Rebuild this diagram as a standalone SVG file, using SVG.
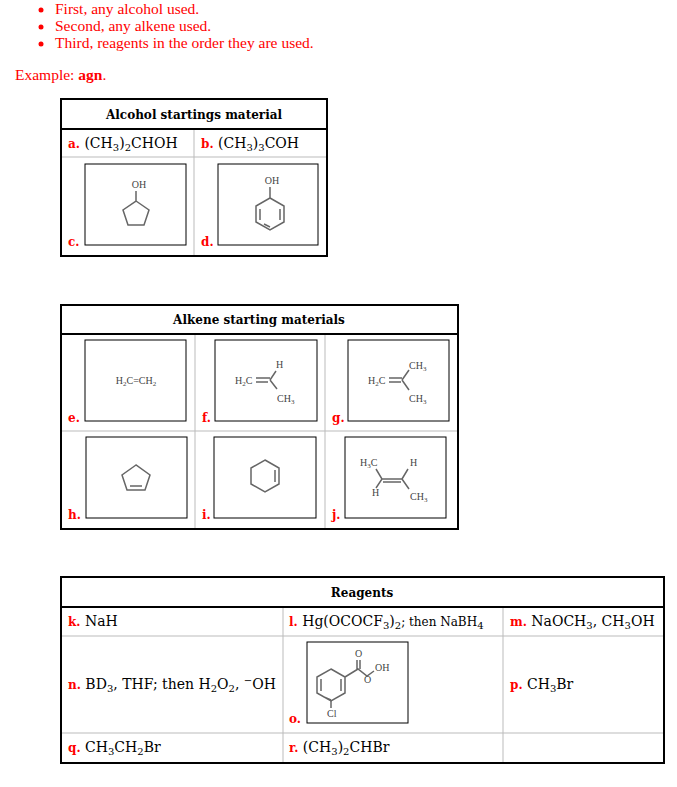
<svg xmlns="http://www.w3.org/2000/svg" width="677" height="787" viewBox="0 0 677 787">
<style>
text{font-family:"DejaVu Serif",serif;font-size:14px;fill:#000}
.r{fill:#f00;font-weight:bold;font-size:12px}
.rt{fill:#f00;font-family:"Liberation Serif",serif;font-size:15.5px}
.h{font-weight:bold;font-size:12px}
.out{fill:none;stroke:#000;stroke-width:2}
.g{stroke:#bbb;stroke-width:1}
.box{fill:#fff;stroke:#000;stroke-width:1}
.m{fill:none;stroke:#666;stroke-width:1.5}
.c{font-family:"Liberation Serif",serif;font-size:10px;fill:#444}
</style>
<rect width="677" height="787" fill="#fff"/>
<g id="intro">
<circle cx="41" cy="10" r="2.5" fill="#f00"/><text class="rt" x="55" y="14">First, any alcohol used.</text>
<circle cx="41" cy="27" r="2.5" fill="#f00"/><text class="rt" x="55" y="31">Second, any alkene used.</text>
<circle cx="41" cy="44" r="2.5" fill="#f00"/><text class="rt" x="55" y="48">Third, reagents in the order they are used.</text>
<text class="rt" x="15" y="80">Example: <tspan font-weight="bold">agn</tspan>.</text>
</g>
<g id="table-alcohol">
<line class="g" x1="194" y1="129" x2="194" y2="256"/>
<line class="g" x1="61" y1="157" x2="327" y2="157"/>
<line x1="61" y1="129" x2="327" y2="129" stroke="#000" stroke-width="2"/>
<rect class="out" x="61" y="99" width="266" height="157"/>
<text class="h" x="194" y="119" text-anchor="middle">Alcohol startings material</text>
<text x="68" y="148"><tspan class="r">a.</tspan> (CH<tspan font-size="10" dy="3">3</tspan><tspan dy="-3">)</tspan><tspan font-size="10" dy="3">2</tspan><tspan dy="-3">CHOH</tspan></text>
<text x="201" y="148"><tspan class="r">b.</tspan> (CH<tspan font-size="10" dy="3">3</tspan><tspan dy="-3">)</tspan><tspan font-size="10" dy="3">3</tspan><tspan dy="-3">COH</tspan></text>
<text class="r" x="68" y="246">c.</text><text class="r" x="201" y="246">d.</text>
<rect class="box" x="85" y="164" width="101" height="81"/>
<rect class="box" x="218" y="164" width="100" height="81"/>
<text class="c" x="139" y="188" text-anchor="middle">OH</text>
<path class="m" d="M136 191V201L123 210L128 225H144L149 210L136 201"/>
<text class="c" x="272" y="184" text-anchor="middle">OH</text>
<path class="m" d="M270 187V198L256 206V222L270 230L284 222V206L270 198M260 209V220M280 209V220M264 224L270 227"/>
</g>
<g id="table-alkene">
<line class="g" x1="195" y1="334" x2="195" y2="529"/>
<line class="g" x1="325" y1="334" x2="325" y2="529"/>
<line class="g" x1="61" y1="431" x2="458" y2="431"/>
<line x1="61" y1="334" x2="458" y2="334" stroke="#000" stroke-width="2"/>
<rect class="out" x="61" y="305" width="397" height="224"/>
<text class="h" x="259" y="324" text-anchor="middle">Alkene starting materials</text>
<text class="r" x="68" y="422">e.</text><text class="r" x="202" y="422">f.</text><text class="r" x="332" y="422">g.</text>
<text class="r" x="68" y="519">h.</text><text class="r" x="202" y="519">i.</text><text class="r" x="332" y="519">j.</text>
<rect class="box" x="85" y="340" width="101" height="81"/>
<rect class="box" x="215" y="340" width="102" height="81"/>
<rect class="box" x="348" y="340" width="101" height="81"/>
<rect class="box" x="86" y="437" width="101" height="81"/>
<rect class="box" x="214" y="437" width="102" height="81"/>
<rect class="box" x="345" y="437" width="101" height="81"/>
<text class="c" x="136" y="384" text-anchor="middle">H<tspan font-size="7" dy="2">2</tspan><tspan dy="-2">C=CH</tspan><tspan font-size="7" dy="2">2</tspan></text>
<text class="c" x="235" y="384">H<tspan font-size="7" dy="2">2</tspan><tspan dy="-2">C</tspan></text>
<path class="m" d="M256 378H270M256 382H268M270 380L276 371M270 380L277 389" stroke-width="1"/>
<text class="c" x="276" y="368">H</text><text class="c" x="277" y="402">CH<tspan font-size="7" dy="2">3</tspan></text>
<text class="c" x="368" y="384">H<tspan font-size="7" dy="2">2</tspan><tspan dy="-2">C</tspan></text>
<path class="m" d="M389 378H402M389 382H401M402 380L409 370M402 380L409 390" stroke-width="1"/>
<text class="c" x="409" y="369">CH<tspan font-size="7" dy="2">3</tspan></text><text class="c" x="409" y="402">CH<tspan font-size="7" dy="2">3</tspan></text>
<path class="m" d="M136 465L122 475L127 490H145L150 475ZM130 486H142"/>
<path class="m" d="M265 460L279 468V484L265 492L251 484V468ZM275 470V482"/>
<text class="c" x="360" y="466">H<tspan font-size="7" dy="2">3</tspan><tspan dy="-2">C</tspan></text>
<text class="c" x="410" y="466">H</text>
<text class="c" x="372" y="496">H</text>
<text class="c" x="410" y="500">CH<tspan font-size="7" dy="2">3</tspan></text>
<path class="m" d="M376 469L382 479L376 488M382 479H402M383 482H401M402 479L408 469M402 479L409 489" stroke-width="1"/>
</g>
<g id="table-reagents">
<line class="g" x1="283" y1="607" x2="283" y2="763"/>
<line class="g" x1="503" y1="607" x2="503" y2="763"/>
<line class="g" x1="61" y1="636" x2="664" y2="636"/>
<line class="g" x1="61" y1="733" x2="664" y2="733"/>
<line x1="61" y1="607" x2="664" y2="607" stroke="#000" stroke-width="2"/>
<rect class="out" x="61" y="577" width="603" height="186"/>
<text class="h" x="362" y="597" text-anchor="middle">Reagents</text>
<text x="68" y="626"><tspan class="r">k.</tspan> NaH</text>
<text x="289" y="626"><tspan class="r">l.</tspan> Hg(OCOCF<tspan font-size="10" dy="3">3</tspan><tspan dy="-3">)</tspan><tspan font-size="10" dy="3">2</tspan><tspan dy="-3" font-size="12">; then NaBH</tspan><tspan font-size="10" dy="3">4</tspan></text>
<text x="510" y="626"><tspan class="r">m.</tspan> NaOCH<tspan font-size="10" dy="3">3</tspan><tspan dy="-3">, CH</tspan><tspan font-size="10" dy="3">3</tspan><tspan dy="-3">OH</tspan></text>
<text x="68" y="689"><tspan class="r">n.</tspan> BD<tspan font-size="10" dy="3">3</tspan><tspan dy="-3">, THF; then H</tspan><tspan font-size="10" dy="3">2</tspan><tspan dy="-3">O</tspan><tspan font-size="10" dy="3">2</tspan><tspan dy="-3">, </tspan><tspan font-size="10" dy="-5">−</tspan><tspan dy="5">OH</tspan></text>
<text class="r" x="289" y="723">o.</text>
<rect class="box" x="307" y="642" width="101" height="81"/>
<path class="m" d="M331 669L345 677V693L331 701L317 693V677ZM321 679V691M341 679V691M324 697L331 700M345 677L358 669L367 676L374 671M357 669V660M360 669V660" stroke-width="1.2"/>
<text class="c" x="355" y="657" font-size="9">O</text><text class="c" x="364" y="683" font-size="9">O</text><text class="c" x="375" y="671" font-size="9">OH</text>
<path class="m" d="M331 701V708" stroke-width="1.2"/><text class="c" x="327" y="717" font-size="9">Cl</text>
<text x="510" y="689"><tspan class="r">p.</tspan> CH<tspan font-size="10" dy="3">3</tspan><tspan dy="-3">Br</tspan></text>
<text x="68" y="752"><tspan class="r">q.</tspan> CH<tspan font-size="10" dy="3">3</tspan><tspan dy="-3">CH</tspan><tspan font-size="10" dy="3">2</tspan><tspan dy="-3">Br</tspan></text>
<text x="289" y="752"><tspan class="r">r.</tspan> (CH<tspan font-size="10" dy="3">3</tspan><tspan dy="-3">)</tspan><tspan font-size="10" dy="3">2</tspan><tspan dy="-3">CHBr</tspan></text>
</g>
</svg>
